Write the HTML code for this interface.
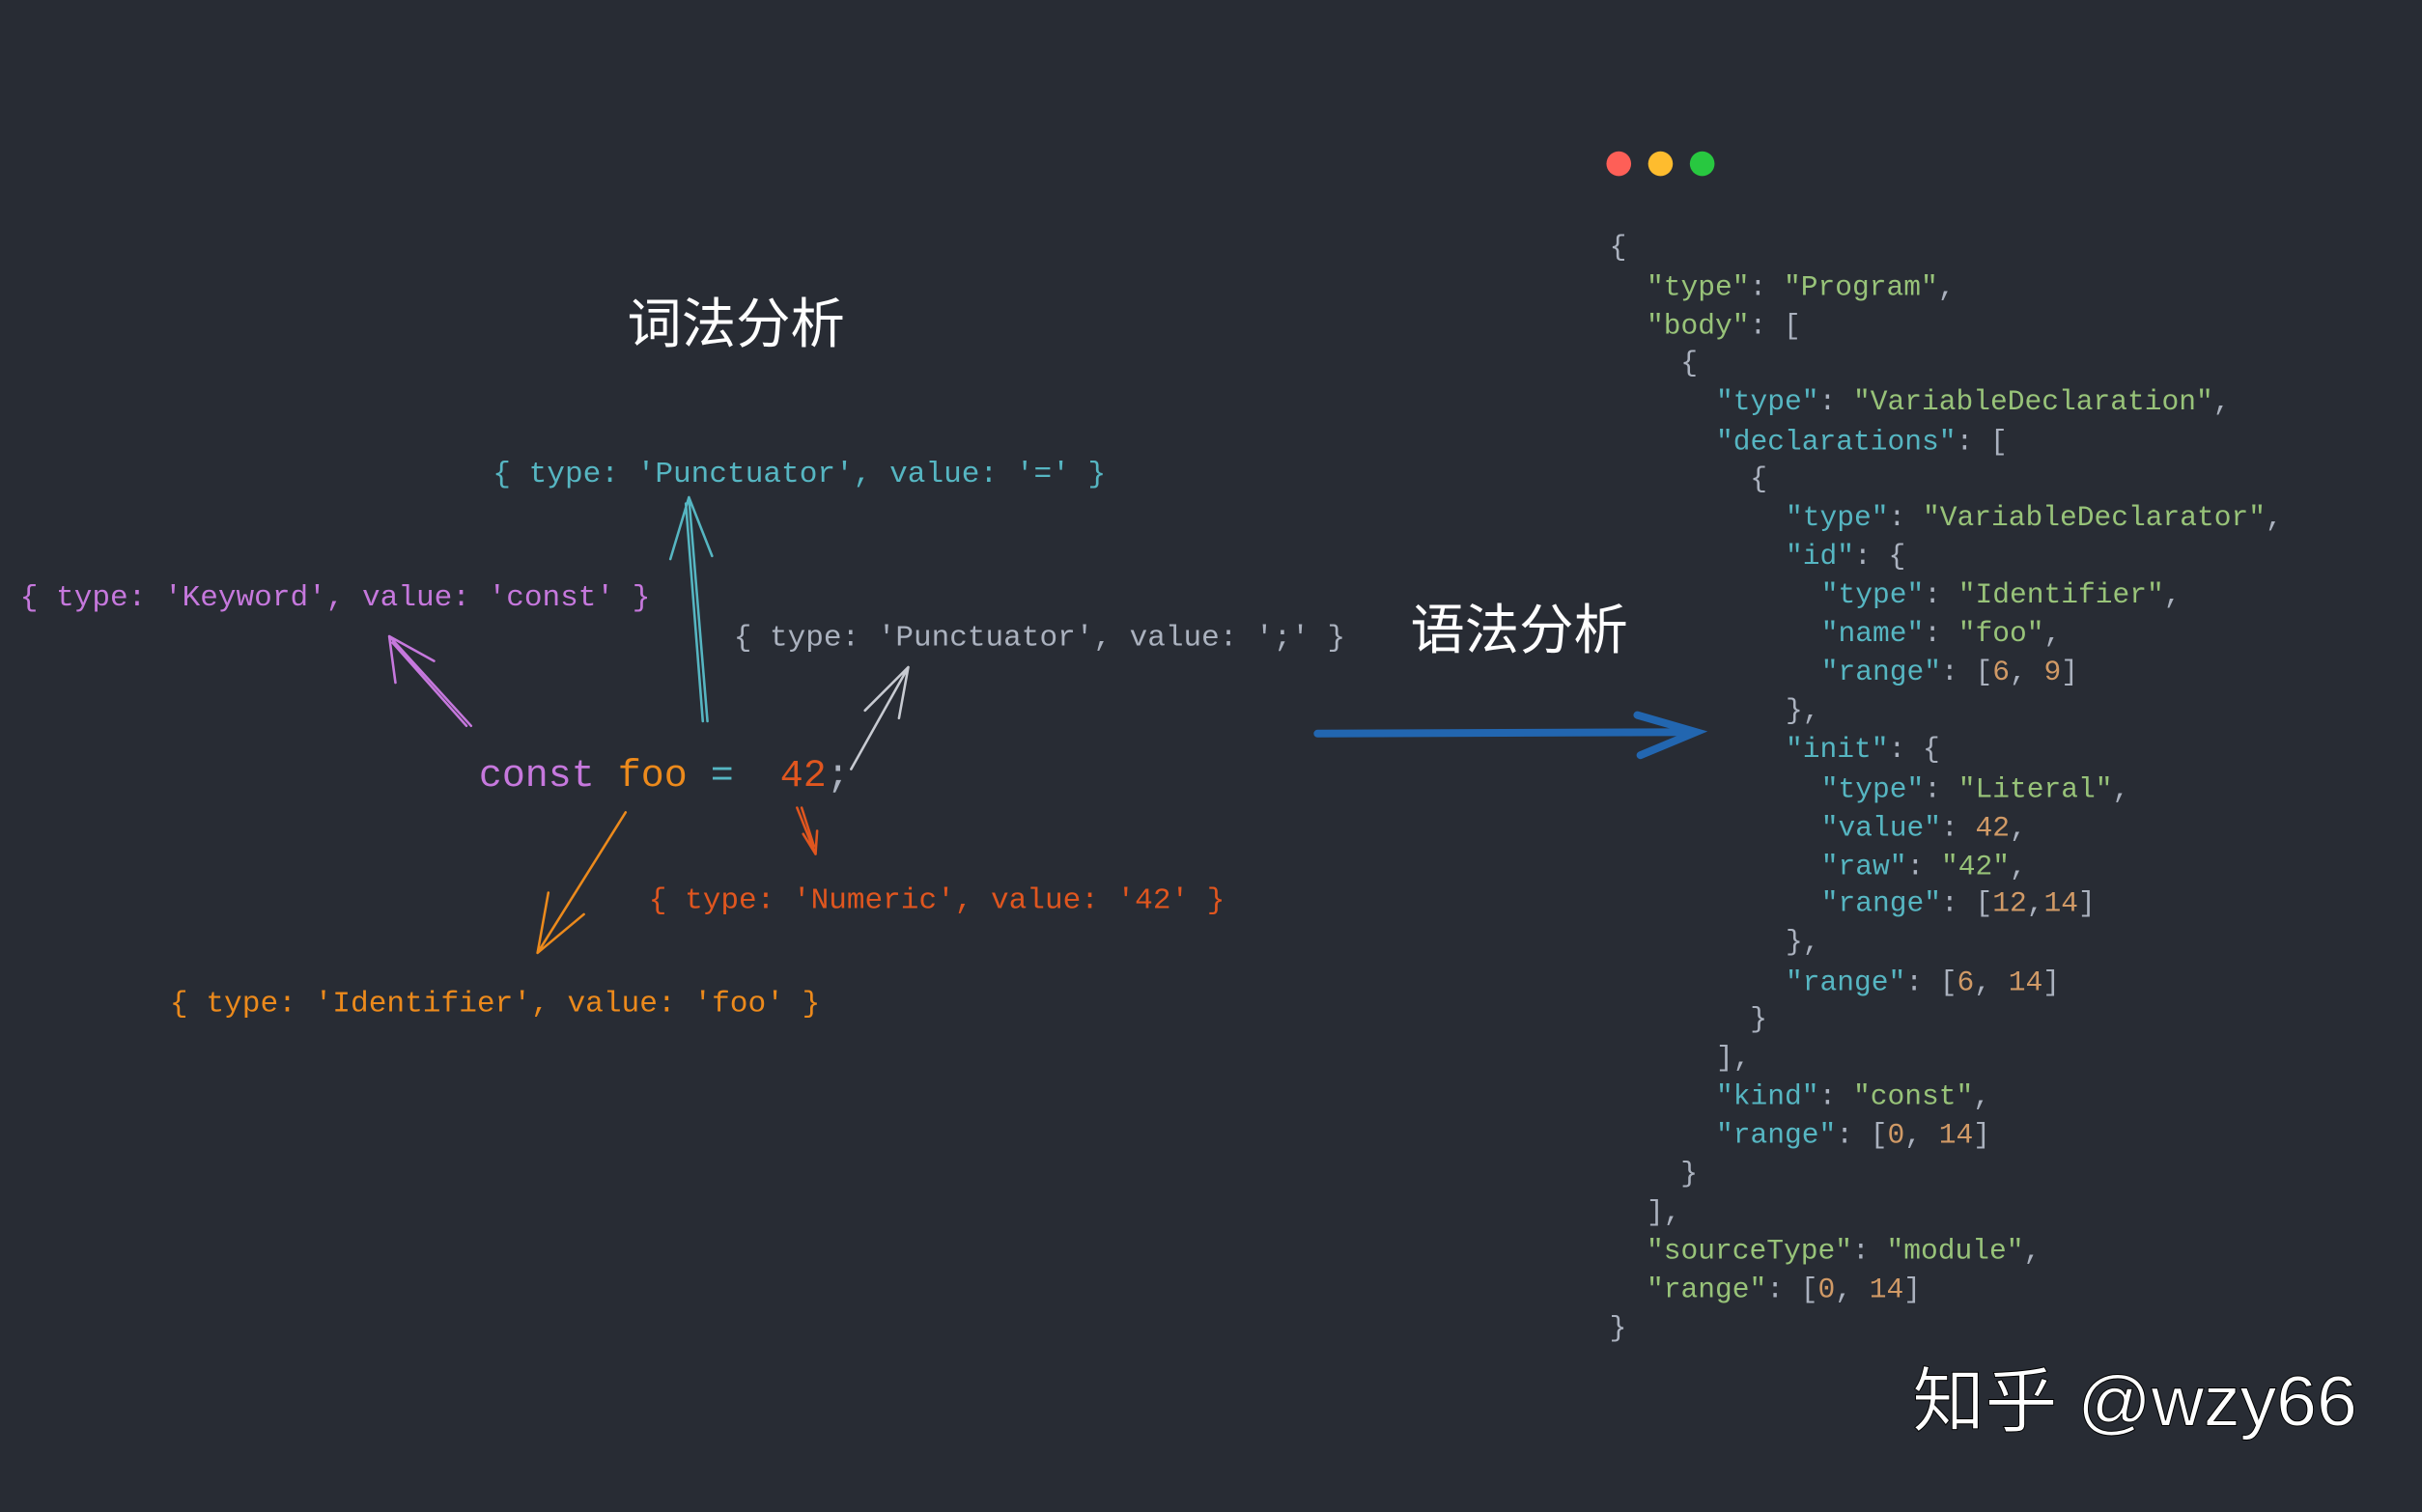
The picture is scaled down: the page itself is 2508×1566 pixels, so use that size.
<!DOCTYPE html>
<html><head><meta charset="utf-8"><style>
html,body{margin:0;padding:0;background:#282c34;}
svg{display:block}
.m{font-family:"Liberation Mono","DejaVu Sans Mono",monospace;}
.c{font-family:"Liberation Sans","Noto Sans CJK SC",sans-serif;}
</style></head><body>
<svg width="2508" height="1566" viewBox="0 0 1568 979" xmlns="http://www.w3.org/2000/svg">
<rect width="1568" height="979" fill="#282c34"/>
<circle cx="1048" cy="106" r="8" fill="#fe5f57"/>
<circle cx="1075" cy="106" r="8" fill="#febc2e"/>
<circle cx="1102" cy="106" r="8" fill="#28c840"/>
<g class="m" font-size="18.5" fill="#abb2bf" xml:space="preserve">
<text x="1042" y="165">{</text>
<text x="1066" y="191"><tspan fill="#98c379">"</tspan><tspan fill="#98c379">type</tspan><tspan fill="#98c379">"</tspan>: <tspan fill="#98c379">"Program"</tspan>,</text>
<text x="1066" y="216"><tspan fill="#98c379">"body"</tspan>: [</text>
<text x="1088" y="240">{</text>
<text x="1111" y="265"><tspan fill="#56b6c2">"type"</tspan>: <tspan fill="#98c379">"VariableDeclaration"</tspan>,</text>
<text x="1111" y="291"><tspan fill="#56b6c2">"declarations"</tspan>: [</text>
<text x="1133" y="315">{</text>
<text x="1156" y="340"><tspan fill="#56b6c2">"type"</tspan>: <tspan fill="#98c379">"VariableDeclarator"</tspan>,</text>
<text x="1156" y="365"><tspan fill="#56b6c2">"id"</tspan>: {</text>
<text x="1179" y="390"><tspan fill="#56b6c2">"type"</tspan>: <tspan fill="#98c379">"Identifier"</tspan>,</text>
<text x="1179" y="415"><tspan fill="#56b6c2">"name"</tspan>: <tspan fill="#98c379">"foo"</tspan>,</text>
<text x="1179" y="440"><tspan fill="#56b6c2">"range"</tspan>: [<tspan fill="#d19a66">6</tspan>, <tspan fill="#d19a66">9</tspan>]</text>
<text x="1156" y="465">},</text>
<text x="1156" y="490"><tspan fill="#56b6c2">"init"</tspan>: {</text>
<text x="1179" y="516"><tspan fill="#56b6c2">"type"</tspan>: <tspan fill="#98c379">"Literal"</tspan>,</text>
<text x="1179" y="541"><tspan fill="#56b6c2">"value"</tspan>: <tspan fill="#d19a66">42</tspan>,</text>
<text x="1179" y="566"><tspan fill="#56b6c2">"raw"</tspan>: <tspan fill="#98c379">"42"</tspan>,</text>
<text x="1179" y="590"><tspan fill="#56b6c2">"range"</tspan>: [<tspan fill="#d19a66">12</tspan>,<tspan fill="#d19a66">14</tspan>]</text>
<text x="1156" y="615">},</text>
<text x="1156" y="641"><tspan fill="#56b6c2">"range"</tspan>: [<tspan fill="#d19a66">6</tspan>, <tspan fill="#d19a66">14</tspan>]</text>
<text x="1133" y="665">}</text>
<text x="1111" y="690">],</text>
<text x="1111" y="715"><tspan fill="#56b6c2">"kind"</tspan>: <tspan fill="#98c379">"const"</tspan>,</text>
<text x="1111" y="740"><tspan fill="#56b6c2">"range"</tspan>: [<tspan fill="#d19a66">0</tspan>, <tspan fill="#d19a66">14</tspan>]</text>
<text x="1088" y="765">}</text>
<text x="1066" y="790">],</text>
<text x="1066" y="815"><tspan fill="#98c379">"sourceType"</tspan>: <tspan fill="#98c379">"module"</tspan>,</text>
<text x="1066" y="840"><tspan fill="#98c379">"range"</tspan>: [<tspan fill="#d19a66">0</tspan>, <tspan fill="#d19a66">14</tspan>]</text>
<text x="1042" y="865">}</text>
</g>
<g class="c" font-size="35" fill="#ffffff">
<text x="406" y="222" textLength="141" lengthAdjust="spacingAndGlyphs">词法分析</text>
<text x="913" y="420" textLength="141" lengthAdjust="spacingAndGlyphs">语法分析</text>
</g>
<g class="m" font-size="19" xml:space="preserve">
<text x="319" y="312" fill="#56b6c2" textLength="397" lengthAdjust="spacingAndGlyphs">{ type: 'Punctuator', value: '=' }</text>
<text x="13" y="392" fill="#c678dd" textLength="408" lengthAdjust="spacingAndGlyphs">{ type: 'Keyword', value: 'const' }</text>
<text x="475" y="418" fill="#abb2bf" textLength="396" lengthAdjust="spacingAndGlyphs">{ type: 'Punctuator', value: ';' }</text>
<text x="420" y="588" fill="#e0561f" textLength="373" lengthAdjust="spacingAndGlyphs">{ type: 'Numeric', value: '42' }</text>
<text x="110" y="655" fill="#ec8a1c" textLength="421" lengthAdjust="spacingAndGlyphs">{ type: 'Identifier', value: 'foo' }</text>
</g>
<text class="m" x="310" y="509" font-size="25" xml:space="preserve"><tspan fill="#c678dd">const</tspan> <tspan fill="#ec8a1c">foo</tspan> <tspan fill="#56b6c2">=</tspan>  <tspan fill="#e0561f">42</tspan><tspan fill="#abb2bf">;</tspan></text>
<g fill="none" stroke-linecap="round" stroke-width="1.6">
<g stroke="#c678dd"><path d="M305 470 L252 412 M252 412 L256 442 M252 412 L281 428 M302 470 L254 416"/></g>
<g stroke="#56b6c2"><path d="M458 467 L446 322 M446 322 L434 362 M446 322 L461 360 M455 467 L444 326"/></g>
<g stroke="#c8cbd2"><path d="M551 498 L588 432 M588 432 L560 460 M588 432 L582 465"/></g>
<g stroke="#e0561f"><path d="M516 523 L528 553 M528 553 L520 540 M528 553 L529 538 M519 523 L527 548"/></g>
<g stroke="#ec8a1c"><path d="M405 526 L348 617 M348 617 L355 578 M348 617 L378 592"/></g>
</g>
<g stroke="#2266b0" stroke-width="5" fill="none" stroke-linecap="round">
<path d="M853 475 L1097 474"/>
<path d="M1060 463 L1098 474 L1062 489"/>
</g>
<text class="c" x="1238" y="923" font-size="46" fill="#ffffff" stroke="#000" stroke-width="0.6" textLength="288" lengthAdjust="spacingAndGlyphs">知乎 @wzy66</text>
</svg>
</body></html>
